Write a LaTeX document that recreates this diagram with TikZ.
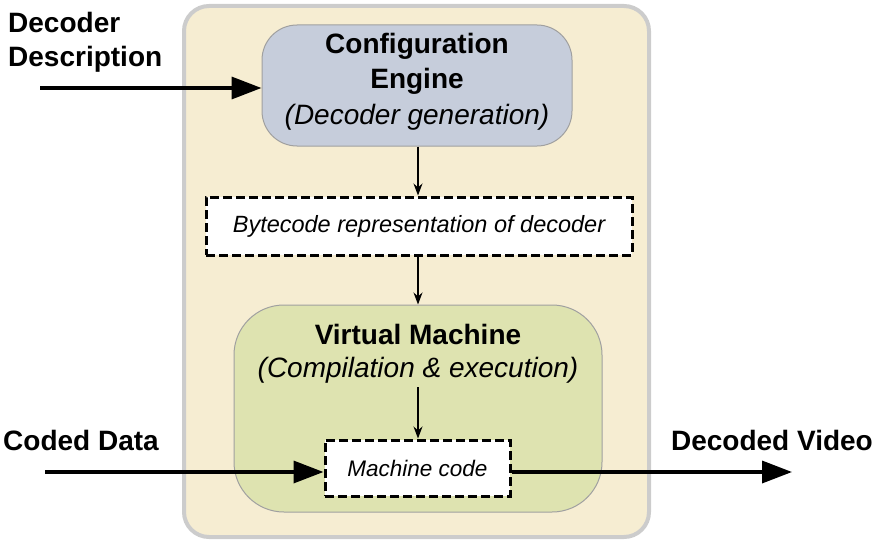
\documentclass[tikz,border=0pt]{standalone}
\usepackage{fontspec}
\setmainfont{Liberation Sans}
\usetikzlibrary{arrows.meta}
\definecolor{beige}{HTML}{F6EDD2}
\definecolor{bluegray}{HTML}{C6CDDB}
\definecolor{vmgreen}{HTML}{DEE3B0}
\definecolor{bord}{HTML}{A0A0A0}
\tikzset{
  big/.style={line width=3.5pt,-{Triangle[length=30pt,width=22pt]}},
  thin/.style={line width=1.3pt,-{Stealth[length=12pt,width=9pt]}},
  dbox/.style={draw=black,fill=white,line width=3pt,dash pattern=on 9pt off 4pt},
  lab/.style={font=\fontsize{28}{34}\selectfont\bfseries,inner sep=0pt}
}
\begin{document}
\begin{tikzpicture}[x=1pt,y=-1pt]
\useasboundingbox (0,0) rectangle (876,543);
\draw[fill=beige,draw=black!20,line width=4pt,rounded corners=25pt] (184,6) rectangle (649,537);
\node[draw=bord,fill=bluegray,line width=1pt,rounded corners=35pt,minimum width=310pt,minimum height=121pt] (ce) at (417,85.5) {};
\node[align=center,inner sep=0pt,font=\fontsize{28}{35}\selectfont\bfseries] (cet) at (417,64) {Configuration\\Engine};
\node[inner sep=0pt,font=\fontsize{28}{34}\selectfont\itshape] (cei) at (417,117) {(Decoder generation)};
\node[dbox,minimum width=426pt,minimum height=58pt,inner sep=0pt] (bc) at (419,226) {\fontsize{23.5}{28}\selectfont\itshape Bytecode representation of decoder};
\node[draw=bord,fill=vmgreen,line width=1pt,rounded corners=50pt,minimum width=368pt,minimum height=207pt] (vm) at (418,408.5) {};
\node[inner sep=0pt,font=\fontsize{28}{34}\selectfont\bfseries] (vmt) at (418,334) {Virtual Machine};
\node[inner sep=0pt,font=\fontsize{28}{34}\selectfont\itshape] (vmi) at (418,370) {(Compilation \& execution)};
\node[dbox,minimum width=185pt,minimum height=56pt,inner sep=0pt] (mc) at (417.5,468) {\fontsize{22.5}{27}\selectfont\itshape Machine code};
\node[lab,align=left,anchor=north west] (dd) at (8,12) {Decoder\\Description};
\node[lab,anchor=west] (cd) at (3,440) {Coded Data};
\node[lab,anchor=east] (dv) at (873,440) {Decoded Video};
\coordinate (ddin) at (40,88);
\coordinate (cdin) at (45,472);
\coordinate (dvout) at (792,472);
\draw[big] (ddin) -- (ce.west|-ddin);
\draw[thin] (ce.south-|418,0) -- (bc.north-|418,0);
\draw[thin] (bc.south-|418,0) -- (vm.north-|418,0);
\draw[thin] (vmi.south-|418,0) ++(0,4) -- (mc.north-|418,0);
\draw[big] (cdin) -- (mc.west|-cdin);
\draw[big] (mc.east|-dvout) -- (dvout);
\end{tikzpicture}
\end{document}
